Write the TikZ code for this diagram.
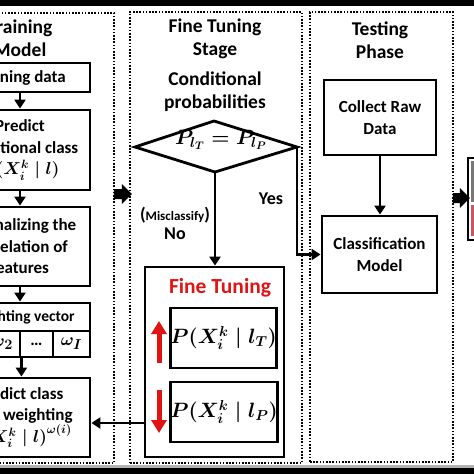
\documentclass[tikz,border=0pt]{standalone}
\usepackage{fontspec}
\setmainfont{Carlito}
\usetikzlibrary{arrows.meta}
\definecolor{ftred}{RGB}{225,20,20}
\definecolor{outgray}{RGB}{120,120,120}
\definecolor{outred}{RGB}{205,85,95}
\begin{document}
\begin{tikzpicture}[x=1pt,y=-1pt,
  panel/.style={draw, line width=1.6pt, dash pattern=on 1.6pt off 1.6pt, minimum width=#1, inner sep=0},
  box/.style={draw, line width=2.8pt, fill=white, inner sep=0, align=center,
    font=\fontsize{17}{21.5}\selectfont\bfseries\boldmath},
  ttl/.style={font=\fontsize{19.5}{23}\selectfont\bfseries, align=center, inner sep=0},
  lbl/.style={font=\fontsize{18}{21}\selectfont\bfseries, align=center, inner sep=0},
  conn/.style={line width=2.8pt, -{Triangle[length=9pt,width=11pt]}},
  redarr/.style={ftred, line width=5pt, -{Triangle[length=13pt,width=15pt]}},
]
\useasboundingbox (0,0) rectangle (474,474);
\clip (0,0) rectangle (474,474);
\fill[white] (0,0) rectangle (474,474);
% frame bars
\fill[black] (0,0) rectangle (474,5.5);
\fill[gray!60] (0,465) rectangle (474,468);
\fill[black] (0,468) rectangle (474,474);

% panels
\node[panel=124pt, minimum height=450pt] (p1) at (52,238) {};
\node[panel=172pt, minimum height=451pt] (p2) at (216,237.5) {};
\node[panel=143pt, minimum height=450pt] (p3) at (381.5,237) {};

% ---------- panel 1: training model ----------
\node[ttl] (t1) at (20,38) {Training\\Model};
\node[box, minimum width=140pt, minimum height=29pt] (train) at (20,77.5) {Training data};
\node[box, minimum width=140pt, minimum height=80pt] (pred) at (20,150) {Predict\\conditional class\\$P\big(X_i^k\mid l\big)$};
\node[box, minimum width=140pt, minimum height=79pt] (norm) at (20,246.5) {Normalizing the\\correlation of\\features};
\node[box, minimum width=140pt, minimum height=28pt, font=\fontsize{15.5}{17}\selectfont\bfseries] (wv) at (20,317) {Weighting vector};
\node[box, minimum width=35pt, minimum height=26pt, font=\fontsize{19}{21}\selectfont\boldmath] (c1) at (-32.5,344) {$\omega_1$};
\node[box, minimum width=35pt, minimum height=26pt, font=\fontsize{19}{21}\selectfont\boldmath] (c2) at (2.5,344) {$\omega_2$};
\node[box, minimum width=33pt, minimum height=26pt] (c3) at (36.5,344) {\dots};
\node[box, minimum width=37pt, minimum height=26pt, font=\fontsize{19}{21}\selectfont\boldmath] (c4) at (71.5,344) {$\omega_I$};
\node[box, minimum width=140pt, minimum height=79pt] (pcw) at (20,417.5) {Predict class\\with weighting\\$P\big(X_i^k\mid l\big)^{\omega(i)}$};

\draw[conn] (train) -- (pred);
\draw[conn] (pred) -- (norm);
\draw[conn] (norm) -- (wv);
\draw[conn] (c2.south east) -- (c2.south east |- pcw.north);

% ---------- panel 2: fine tuning ----------
\node[ttl] (t2) at (215,38.5) {Fine Tuning\\Stage};
\node[ttl] (cp) at (215,91.5) {Conditional\\probabilities};
\coordinate (dl) at (135,147);
\coordinate (dt) at (214,121);
\coordinate (dr) at (297,147);
\coordinate (db) at (215,172);
\draw[line width=2.8pt, line join=miter] (dl) -- (dt) -- (dr) -- (db) -- cycle;
\node[inner sep=0, font=\fontsize{22.5}{24}\selectfont\boldmath] (dtext) at (221,140) {$P_{l_T} = P_{l_P}$};

\node[lbl] (mis) at (175,215) {\fontsize{18}{20}\selectfont(\fontsize{13}{15}\selectfont Misclassify\fontsize{18}{20}\selectfont)};
\node[lbl] (no) at (175,234) {No};
\node[lbl] (yes) at (271,199) {Yes};

\node[box, minimum width=139pt, minimum height=190pt] (ftbox) at (214.5,362) {};
\node[inner sep=0, text=ftred, font=\fontsize{21.5}{24}\selectfont\bfseries] (ftl) at (220,288) {Fine Tuning};
\node[box, minimum width=105pt, minimum height=60pt, font=\fontsize{19.5}{24}\selectfont\boldmath] (pt) at (223.5,338) {$P\big(X_i^k\mid l_T\big)$};
\node[box, minimum width=104pt, minimum height=60pt, font=\fontsize{19.5}{24}\selectfont\boldmath] (pp) at (224,412) {$P\big(X_i^k\mid l_P\big)$};
\draw[redarr] (159,363) -- (159,321);
\draw[redarr] (159,390) -- (159,433);

\draw[conn] (db) -- (db |- ftbox.north);
\coordinate (fy) at (0,423);
\draw[conn] (ftbox.west |- fy) -- (pcw.east |- fy);

% ---------- panel 3: testing ----------
\node[ttl] (t3) at (380,40) {Testing\\Phase};
\node[box, minimum width=112pt, minimum height=75pt] (raw) at (380,117.5) {Collect Raw\\Data};
\node[box, minimum width=115pt, minimum height=77pt] (cls) at (379.5,254.5) {Classification\\Model};
\draw[conn] (raw) -- (raw |- cls.north);
\draw[conn] (dr) |- (cls.west);

% ---------- output (cut off) ----------
\node[draw, line width=2.8pt, minimum width=40pt, minimum height=82pt, inner sep=0] (out) at (488,199) {};
\fill[outgray] (471,161) rectangle (480,202);
\fill[outred] (471,205) rectangle (480,236);

% fat block arrows between panels
\coordinate (a1) at (0,194);
\coordinate (a2) at (0,198);
\fill (p1.east |- a1) ++(-1,-5) -- ++(8,0) -- ++(0,-5) -- ++(10,10) -- ++(-10,10) -- ++(0,-5) -- ++(-8,0) -- cycle;
\fill (p3.east |- a2) ++(-1,-5) -- ++(7,0) -- ++(0,-5) -- ++(10,10) -- ++(-10,10) -- ++(0,-5) -- ++(-7,0) -- cycle;
\end{tikzpicture}
\end{document}
